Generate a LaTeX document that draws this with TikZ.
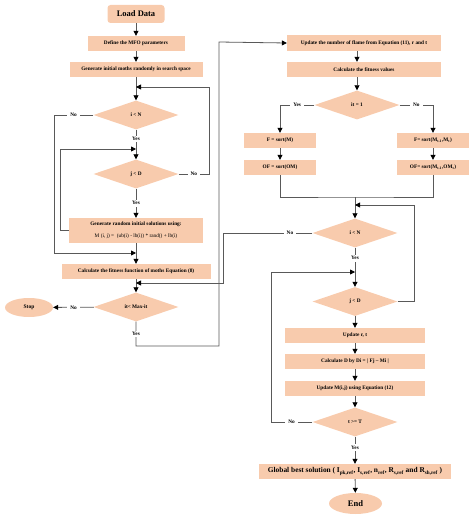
\documentclass[tikz,border=0pt]{standalone}
\usepackage{fontspec}
\setmainfont{Liberation Serif}
\usetikzlibrary{shapes.geometric,arrows.meta}
\definecolor{peach}{HTML}{F8CBAD}
\definecolor{ln}{HTML}{595959}
\newcommand{\sbs}[1]{\textsubscript{#1}}
\begin{document}
\begin{tikzpicture}[x=1pt,y=-1pt,
  every node/.style={inner sep=0pt,font=\bfseries\fontsize{5.3}{6.4}\selectfont},
  box/.style={rectangle,fill=peach,minimum width=#1,minimum height=15pt},
  dia/.style={diamond,fill=peach,minimum width=85pt,minimum height=29pt},
  oval/.style={ellipse,fill=peach,font=\bfseries\fontsize{8.5}{10}\selectfont},
  conn/.style={draw=ln,line width=0.8pt},
  arr/.style={conn,-{Triangle[length=5pt,width=5pt,color=black]}},
  lbl/.style={fill=white,inner xsep=3pt,inner ysep=1.5pt}]
\useasboundingbox (0,0) rectangle (474,519);
% left column
\node[rectangle,rounded corners=3pt,fill=peach,minimum width=57pt,minimum height=18pt,font=\bfseries\fontsize{8.5}{10}\selectfont] (load) at (136,14) {Load Data};
\node[box=97pt] (def) at (136,43.5) {Define the MFO parameters};
\node[box=133pt] (gen) at (136,69.5) {Generate initial moths randomly in search space};
\node[dia] (in1) at (136,115) {i < N};
\node[dia] (jd1) at (136,174) {j < D};
\node[box=134pt,minimum height=25pt,align=center,font=\bfseries\fontsize{5.3}{12}\selectfont] (genr) at (136,230.5) {Generate random initial solutions using:\\\mdseries M (i, j) =~ (ub(i) - lb(i)) * rand() + lb(i)};
\node[box=149pt] (calc) at (136,271.5) {Calculate the fitness function of moths Equation (8)};
\node[dia] (itm) at (136,307) {it< Max-it};
\node[oval,minimum width=48pt,minimum height=19pt,font=\bfseries\fontsize{5.5}{6.6}\selectfont] (stop) at (29,307.5) {Stop};
% right column
\node[box=154pt,minimum height=16pt] (upd) at (364,43) {Update the number of flame from Equation (11), r and t};
\node[box=154pt] (cfv) at (364,69.5) {Calculate the fitness values};
\node[dia] (it1) at (357,105) {it = 1};
\node[box=72pt] (fl) at (280,140.5) {F = sort(M)};
\node[box=72pt] (ofl) at (280,167.5) {OF = sort(OM)};
\node[box=72pt] (fr) at (433,140.5) {F= sort(M\sbs{t-1},M\sbs{t})};
\node[box=72pt] (ofr) at (433,167.5) {OF= sort(M\sbs{t-1},OM\sbs{t})};
\node[dia] (in2) at (355,233) {i < N};
\node[dia] (jd2) at (355,301.5) {j < D};
\node[box=140pt] (upe) at (355,335.5) {Update r, t};
\node[box=140pt] (cald) at (355,361.5) {Calculate D by Di = | Fj -- Mi |};
\node[box=140pt] (updm) at (355,388.5) {Update M(i,j) using Equation (12)};
\node[dia] (tT) at (355,422) {t >= T};
\node[box=192pt,font=\bfseries\fontsize{7.4}{9}\selectfont] (glob) at (355,471.5) {Global best solution ( I\sbs{pk,ref}, I\sbs{s,ref}, n\sbs{ref}, R\sbs{s,ref} and R\sbs{sh,ref} )};
\node[oval,minimum width=53pt,minimum height=21pt] (end) at (355.5,503.5) {End};
% coordinates
\coordinate (a1) at (136,87);
\coordinate (a2) at (136,149);
\coordinate (a3) at (136,253);
\coordinate (a4) at (136,283);
\coordinate (b1) at (355,197);
\coordinate (b2) at (355,205);
\coordinate (b3) at (355,272);
% left connectors
\draw[arr] (load) -- (def);
\draw[arr] (def) -- (gen);
\draw[arr] (gen) -- (in1);
\draw[arr] (in1) -- node[lbl,pos=0.31]{Yes} (jd1);
\draw[arr] (jd1) -- node[lbl]{Yes} (genr);
\draw[arr] (genr) -- (calc);
\draw[arr] (calc) -- (itm);
\draw[arr] (itm) -- node[lbl]{No} (stop);
\draw[arr] (jd1.east) -- node[lbl]{No} (209,174) |- (a1);
\draw[arr] (in1.west) -- node[lbl]{No} (54,115) |- (a3);
\draw[arr] (genr.west) -- (60,230.5) |- (a2);
\draw[arr] (itm.south) -- node[lbl]{Yes} (136,346) -| (219,42) -- (upd.west);
% right connectors
\draw[arr] (upd.south -| it1) -- (cfv.north -| it1);
\draw[arr] (cfv.south -| it1) -- (it1);
\draw[arr] (it1.west) -- node[lbl]{Yes} (280,105) -- (fl.north);
\draw[arr] (it1.east) -- node[lbl]{No} (433,105) -- (fr.north);
\draw[arr] (fl) -- (ofl);
\draw[arr] (fr) -- (ofr);
\draw[conn] (ofl.south) |- (b1) -| (ofr.south);
\draw[arr] (b1) -- (in2);
\draw[arr] (in2) -- node[lbl,pos=0.27]{Yes} (jd2);
\draw[arr] (jd2.east) -- (414,301.5) |- (b2);
\draw[arr] (in2.west) -- node[lbl,pos=0.25]{No} (223,233) |- (a4);
\draw[arr] (jd2) -- (upe);
\draw[arr] (upe) -- (cald);
\draw[arr] (cald) -- (updm);
\draw[arr] (updm) -- (tT);
\draw[arr] (tT.west) -- node[lbl]{No} (271,422) |- (b3);
\draw[arr] (tT) -- node[lbl,pos=0.4]{Yes} (glob);
\draw[arr] (glob) -- (end);
\end{tikzpicture}
\end{document}
